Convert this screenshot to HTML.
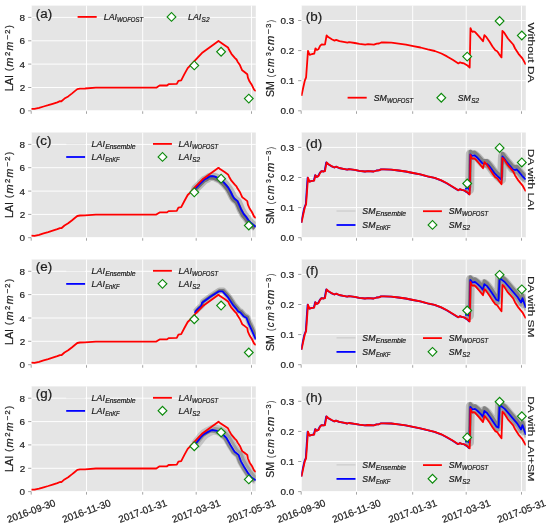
<!DOCTYPE html><html><head><meta charset="utf-8"><style>html,body{margin:0;padding:0;background:#fff;width:550px;height:528px;overflow:hidden}svg{display:block;will-change:transform}text{font-family:"Liberation Sans",sans-serif;stroke:#1e1e1e;stroke-width:0.22px}</style></head><body>
<svg width="550" height="528" viewBox="0 0 550 528">
<defs>
<clipPath id="c00"><rect x="31.3" y="5.6" width="224.5" height="105.2"/></clipPath>
<clipPath id="c01"><rect x="301.3" y="5.6" width="224.5" height="105.2"/></clipPath>
<clipPath id="c10"><rect x="31.3" y="132.5" width="224.5" height="105.2"/></clipPath>
<clipPath id="c11"><rect x="301.3" y="132.5" width="224.5" height="105.2"/></clipPath>
<clipPath id="c20"><rect x="31.3" y="259.5" width="224.5" height="105.2"/></clipPath>
<clipPath id="c21"><rect x="301.3" y="259.5" width="224.5" height="105.2"/></clipPath>
<clipPath id="c30"><rect x="31.3" y="386.4" width="224.5" height="105.2"/></clipPath>
<clipPath id="c31"><rect x="301.3" y="386.4" width="224.5" height="105.2"/></clipPath>
</defs>
<rect x="31.3" y="5.6" width="224.5" height="105.2" fill="#e5e5e5"/>
<line x1="31.2" y1="5.6" x2="31.2" y2="110.8" stroke="#fff" stroke-width="0.95"/>
<line x1="31.2" y1="110.8" x2="31.2" y2="113.8" stroke="#8a8a8a" stroke-width="0.8"/>
<line x1="86.5" y1="5.6" x2="86.5" y2="110.8" stroke="#fff" stroke-width="0.95"/>
<line x1="86.5" y1="110.8" x2="86.5" y2="113.8" stroke="#8a8a8a" stroke-width="0.8"/>
<line x1="142.7" y1="5.6" x2="142.7" y2="110.8" stroke="#fff" stroke-width="0.95"/>
<line x1="142.7" y1="110.8" x2="142.7" y2="113.8" stroke="#8a8a8a" stroke-width="0.8"/>
<line x1="196.2" y1="5.6" x2="196.2" y2="110.8" stroke="#fff" stroke-width="0.95"/>
<line x1="196.2" y1="110.8" x2="196.2" y2="113.8" stroke="#8a8a8a" stroke-width="0.8"/>
<line x1="251.5" y1="5.6" x2="251.5" y2="110.8" stroke="#fff" stroke-width="0.95"/>
<line x1="251.5" y1="110.8" x2="251.5" y2="113.8" stroke="#8a8a8a" stroke-width="0.8"/>
<line x1="31.3" y1="110.8" x2="255.8" y2="110.8" stroke="#fff" stroke-width="0.95"/>
<line x1="28.1" y1="110.8" x2="31.3" y2="110.8" stroke="#8a8a8a" stroke-width="0.8"/>
<text x="19.58" y="114.36" font-size="9.90" textLength="5.51" lengthAdjust="spacingAndGlyphs" fill="#1e1e1e">0</text>
<line x1="31.3" y1="87.5" x2="255.8" y2="87.5" stroke="#fff" stroke-width="0.95"/>
<line x1="28.1" y1="87.5" x2="31.3" y2="87.5" stroke="#8a8a8a" stroke-width="0.8"/>
<text x="19.69" y="91.02" font-size="9.90" textLength="5.51" lengthAdjust="spacingAndGlyphs" fill="#1e1e1e">2</text>
<line x1="31.3" y1="64.1" x2="255.8" y2="64.1" stroke="#fff" stroke-width="0.95"/>
<line x1="28.1" y1="64.1" x2="31.3" y2="64.1" stroke="#8a8a8a" stroke-width="0.8"/>
<text x="19.48" y="67.68" font-size="9.90" textLength="5.51" lengthAdjust="spacingAndGlyphs" fill="#1e1e1e">4</text>
<line x1="31.3" y1="40.8" x2="255.8" y2="40.8" stroke="#fff" stroke-width="0.95"/>
<line x1="28.1" y1="40.8" x2="31.3" y2="40.8" stroke="#8a8a8a" stroke-width="0.8"/>
<text x="19.63" y="44.34" font-size="9.90" textLength="5.51" lengthAdjust="spacingAndGlyphs" fill="#1e1e1e">6</text>
<line x1="31.3" y1="17.4" x2="255.8" y2="17.4" stroke="#fff" stroke-width="0.95"/>
<line x1="28.1" y1="17.4" x2="31.3" y2="17.4" stroke="#8a8a8a" stroke-width="0.8"/>
<text x="19.62" y="21.00" font-size="9.90" textLength="5.51" lengthAdjust="spacingAndGlyphs" fill="#1e1e1e">8</text>
<rect x="301.3" y="5.6" width="224.5" height="105.2" fill="#e5e5e5"/>
<line x1="301.2" y1="5.6" x2="301.2" y2="110.8" stroke="#fff" stroke-width="0.95"/>
<line x1="301.2" y1="110.8" x2="301.2" y2="113.8" stroke="#8a8a8a" stroke-width="0.8"/>
<line x1="356.5" y1="5.6" x2="356.5" y2="110.8" stroke="#fff" stroke-width="0.95"/>
<line x1="356.5" y1="110.8" x2="356.5" y2="113.8" stroke="#8a8a8a" stroke-width="0.8"/>
<line x1="412.7" y1="5.6" x2="412.7" y2="110.8" stroke="#fff" stroke-width="0.95"/>
<line x1="412.7" y1="110.8" x2="412.7" y2="113.8" stroke="#8a8a8a" stroke-width="0.8"/>
<line x1="466.2" y1="5.6" x2="466.2" y2="110.8" stroke="#fff" stroke-width="0.95"/>
<line x1="466.2" y1="110.8" x2="466.2" y2="113.8" stroke="#8a8a8a" stroke-width="0.8"/>
<line x1="521.5" y1="5.6" x2="521.5" y2="110.8" stroke="#fff" stroke-width="0.95"/>
<line x1="521.5" y1="110.8" x2="521.5" y2="113.8" stroke="#8a8a8a" stroke-width="0.8"/>
<line x1="301.3" y1="110.8" x2="525.8" y2="110.8" stroke="#fff" stroke-width="0.95"/>
<line x1="298.1" y1="110.8" x2="301.3" y2="110.8" stroke="#8a8a8a" stroke-width="0.8"/>
<text x="280.42" y="114.36" font-size="9.90" textLength="13.76" lengthAdjust="spacingAndGlyphs" fill="#1e1e1e">0.0</text>
<line x1="301.3" y1="80.7" x2="525.8" y2="80.7" stroke="#fff" stroke-width="0.95"/>
<line x1="298.1" y1="80.7" x2="301.3" y2="80.7" stroke="#8a8a8a" stroke-width="0.8"/>
<text x="280.52" y="84.26" font-size="9.90" textLength="13.76" lengthAdjust="spacingAndGlyphs" fill="#1e1e1e">0.1</text>
<line x1="301.3" y1="50.6" x2="525.8" y2="50.6" stroke="#fff" stroke-width="0.95"/>
<line x1="298.1" y1="50.6" x2="301.3" y2="50.6" stroke="#8a8a8a" stroke-width="0.8"/>
<text x="280.54" y="54.16" font-size="9.90" textLength="13.76" lengthAdjust="spacingAndGlyphs" fill="#1e1e1e">0.2</text>
<line x1="301.3" y1="20.5" x2="525.8" y2="20.5" stroke="#fff" stroke-width="0.95"/>
<line x1="298.1" y1="20.5" x2="301.3" y2="20.5" stroke="#8a8a8a" stroke-width="0.8"/>
<text x="280.47" y="24.06" font-size="9.90" textLength="13.76" lengthAdjust="spacingAndGlyphs" fill="#1e1e1e">0.3</text>
<rect x="31.3" y="132.5" width="224.5" height="105.2" fill="#e5e5e5"/>
<line x1="31.2" y1="132.5" x2="31.2" y2="237.7" stroke="#fff" stroke-width="0.95"/>
<line x1="31.2" y1="237.7" x2="31.2" y2="240.7" stroke="#8a8a8a" stroke-width="0.8"/>
<line x1="86.5" y1="132.5" x2="86.5" y2="237.7" stroke="#fff" stroke-width="0.95"/>
<line x1="86.5" y1="237.7" x2="86.5" y2="240.7" stroke="#8a8a8a" stroke-width="0.8"/>
<line x1="142.7" y1="132.5" x2="142.7" y2="237.7" stroke="#fff" stroke-width="0.95"/>
<line x1="142.7" y1="237.7" x2="142.7" y2="240.7" stroke="#8a8a8a" stroke-width="0.8"/>
<line x1="196.2" y1="132.5" x2="196.2" y2="237.7" stroke="#fff" stroke-width="0.95"/>
<line x1="196.2" y1="237.7" x2="196.2" y2="240.7" stroke="#8a8a8a" stroke-width="0.8"/>
<line x1="251.5" y1="132.5" x2="251.5" y2="237.7" stroke="#fff" stroke-width="0.95"/>
<line x1="251.5" y1="237.7" x2="251.5" y2="240.7" stroke="#8a8a8a" stroke-width="0.8"/>
<line x1="31.3" y1="237.7" x2="255.8" y2="237.7" stroke="#fff" stroke-width="0.95"/>
<line x1="28.1" y1="237.7" x2="31.3" y2="237.7" stroke="#8a8a8a" stroke-width="0.8"/>
<text x="19.58" y="241.29" font-size="9.90" textLength="5.51" lengthAdjust="spacingAndGlyphs" fill="#1e1e1e">0</text>
<line x1="31.3" y1="214.4" x2="255.8" y2="214.4" stroke="#fff" stroke-width="0.95"/>
<line x1="28.1" y1="214.4" x2="31.3" y2="214.4" stroke="#8a8a8a" stroke-width="0.8"/>
<text x="19.69" y="217.95" font-size="9.90" textLength="5.51" lengthAdjust="spacingAndGlyphs" fill="#1e1e1e">2</text>
<line x1="31.3" y1="191.1" x2="255.8" y2="191.1" stroke="#fff" stroke-width="0.95"/>
<line x1="28.1" y1="191.1" x2="31.3" y2="191.1" stroke="#8a8a8a" stroke-width="0.8"/>
<text x="19.48" y="194.61" font-size="9.90" textLength="5.51" lengthAdjust="spacingAndGlyphs" fill="#1e1e1e">4</text>
<line x1="31.3" y1="167.7" x2="255.8" y2="167.7" stroke="#fff" stroke-width="0.95"/>
<line x1="28.1" y1="167.7" x2="31.3" y2="167.7" stroke="#8a8a8a" stroke-width="0.8"/>
<text x="19.63" y="171.27" font-size="9.90" textLength="5.51" lengthAdjust="spacingAndGlyphs" fill="#1e1e1e">6</text>
<line x1="31.3" y1="144.4" x2="255.8" y2="144.4" stroke="#fff" stroke-width="0.95"/>
<line x1="28.1" y1="144.4" x2="31.3" y2="144.4" stroke="#8a8a8a" stroke-width="0.8"/>
<text x="19.62" y="147.93" font-size="9.90" textLength="5.51" lengthAdjust="spacingAndGlyphs" fill="#1e1e1e">8</text>
<rect x="301.3" y="132.5" width="224.5" height="105.2" fill="#e5e5e5"/>
<line x1="301.2" y1="132.5" x2="301.2" y2="237.7" stroke="#fff" stroke-width="0.95"/>
<line x1="301.2" y1="237.7" x2="301.2" y2="240.7" stroke="#8a8a8a" stroke-width="0.8"/>
<line x1="356.5" y1="132.5" x2="356.5" y2="237.7" stroke="#fff" stroke-width="0.95"/>
<line x1="356.5" y1="237.7" x2="356.5" y2="240.7" stroke="#8a8a8a" stroke-width="0.8"/>
<line x1="412.7" y1="132.5" x2="412.7" y2="237.7" stroke="#fff" stroke-width="0.95"/>
<line x1="412.7" y1="237.7" x2="412.7" y2="240.7" stroke="#8a8a8a" stroke-width="0.8"/>
<line x1="466.2" y1="132.5" x2="466.2" y2="237.7" stroke="#fff" stroke-width="0.95"/>
<line x1="466.2" y1="237.7" x2="466.2" y2="240.7" stroke="#8a8a8a" stroke-width="0.8"/>
<line x1="521.5" y1="132.5" x2="521.5" y2="237.7" stroke="#fff" stroke-width="0.95"/>
<line x1="521.5" y1="237.7" x2="521.5" y2="240.7" stroke="#8a8a8a" stroke-width="0.8"/>
<line x1="301.3" y1="237.7" x2="525.8" y2="237.7" stroke="#fff" stroke-width="0.95"/>
<line x1="298.1" y1="237.7" x2="301.3" y2="237.7" stroke="#8a8a8a" stroke-width="0.8"/>
<text x="280.42" y="241.29" font-size="9.90" textLength="13.76" lengthAdjust="spacingAndGlyphs" fill="#1e1e1e">0.0</text>
<line x1="301.3" y1="207.6" x2="525.8" y2="207.6" stroke="#fff" stroke-width="0.95"/>
<line x1="298.1" y1="207.6" x2="301.3" y2="207.6" stroke="#8a8a8a" stroke-width="0.8"/>
<text x="280.52" y="211.19" font-size="9.90" textLength="13.76" lengthAdjust="spacingAndGlyphs" fill="#1e1e1e">0.1</text>
<line x1="301.3" y1="177.5" x2="525.8" y2="177.5" stroke="#fff" stroke-width="0.95"/>
<line x1="298.1" y1="177.5" x2="301.3" y2="177.5" stroke="#8a8a8a" stroke-width="0.8"/>
<text x="280.54" y="181.09" font-size="9.90" textLength="13.76" lengthAdjust="spacingAndGlyphs" fill="#1e1e1e">0.2</text>
<line x1="301.3" y1="147.4" x2="525.8" y2="147.4" stroke="#fff" stroke-width="0.95"/>
<line x1="298.1" y1="147.4" x2="301.3" y2="147.4" stroke="#8a8a8a" stroke-width="0.8"/>
<text x="280.47" y="150.99" font-size="9.90" textLength="13.76" lengthAdjust="spacingAndGlyphs" fill="#1e1e1e">0.3</text>
<rect x="31.3" y="259.5" width="224.5" height="105.2" fill="#e5e5e5"/>
<line x1="31.2" y1="259.5" x2="31.2" y2="364.7" stroke="#fff" stroke-width="0.95"/>
<line x1="31.2" y1="364.7" x2="31.2" y2="367.7" stroke="#8a8a8a" stroke-width="0.8"/>
<line x1="86.5" y1="259.5" x2="86.5" y2="364.7" stroke="#fff" stroke-width="0.95"/>
<line x1="86.5" y1="364.7" x2="86.5" y2="367.7" stroke="#8a8a8a" stroke-width="0.8"/>
<line x1="142.7" y1="259.5" x2="142.7" y2="364.7" stroke="#fff" stroke-width="0.95"/>
<line x1="142.7" y1="364.7" x2="142.7" y2="367.7" stroke="#8a8a8a" stroke-width="0.8"/>
<line x1="196.2" y1="259.5" x2="196.2" y2="364.7" stroke="#fff" stroke-width="0.95"/>
<line x1="196.2" y1="364.7" x2="196.2" y2="367.7" stroke="#8a8a8a" stroke-width="0.8"/>
<line x1="251.5" y1="259.5" x2="251.5" y2="364.7" stroke="#fff" stroke-width="0.95"/>
<line x1="251.5" y1="364.7" x2="251.5" y2="367.7" stroke="#8a8a8a" stroke-width="0.8"/>
<line x1="31.3" y1="364.7" x2="255.8" y2="364.7" stroke="#fff" stroke-width="0.95"/>
<line x1="28.1" y1="364.7" x2="31.3" y2="364.7" stroke="#8a8a8a" stroke-width="0.8"/>
<text x="19.58" y="368.22" font-size="9.90" textLength="5.51" lengthAdjust="spacingAndGlyphs" fill="#1e1e1e">0</text>
<line x1="31.3" y1="341.3" x2="255.8" y2="341.3" stroke="#fff" stroke-width="0.95"/>
<line x1="28.1" y1="341.3" x2="31.3" y2="341.3" stroke="#8a8a8a" stroke-width="0.8"/>
<text x="19.69" y="344.88" font-size="9.90" textLength="5.51" lengthAdjust="spacingAndGlyphs" fill="#1e1e1e">2</text>
<line x1="31.3" y1="318.0" x2="255.8" y2="318.0" stroke="#fff" stroke-width="0.95"/>
<line x1="28.1" y1="318.0" x2="31.3" y2="318.0" stroke="#8a8a8a" stroke-width="0.8"/>
<text x="19.48" y="321.54" font-size="9.90" textLength="5.51" lengthAdjust="spacingAndGlyphs" fill="#1e1e1e">4</text>
<line x1="31.3" y1="294.6" x2="255.8" y2="294.6" stroke="#fff" stroke-width="0.95"/>
<line x1="28.1" y1="294.6" x2="31.3" y2="294.6" stroke="#8a8a8a" stroke-width="0.8"/>
<text x="19.63" y="298.20" font-size="9.90" textLength="5.51" lengthAdjust="spacingAndGlyphs" fill="#1e1e1e">6</text>
<line x1="31.3" y1="271.3" x2="255.8" y2="271.3" stroke="#fff" stroke-width="0.95"/>
<line x1="28.1" y1="271.3" x2="31.3" y2="271.3" stroke="#8a8a8a" stroke-width="0.8"/>
<text x="19.62" y="274.86" font-size="9.90" textLength="5.51" lengthAdjust="spacingAndGlyphs" fill="#1e1e1e">8</text>
<rect x="301.3" y="259.5" width="224.5" height="105.2" fill="#e5e5e5"/>
<line x1="301.2" y1="259.5" x2="301.2" y2="364.7" stroke="#fff" stroke-width="0.95"/>
<line x1="301.2" y1="364.7" x2="301.2" y2="367.7" stroke="#8a8a8a" stroke-width="0.8"/>
<line x1="356.5" y1="259.5" x2="356.5" y2="364.7" stroke="#fff" stroke-width="0.95"/>
<line x1="356.5" y1="364.7" x2="356.5" y2="367.7" stroke="#8a8a8a" stroke-width="0.8"/>
<line x1="412.7" y1="259.5" x2="412.7" y2="364.7" stroke="#fff" stroke-width="0.95"/>
<line x1="412.7" y1="364.7" x2="412.7" y2="367.7" stroke="#8a8a8a" stroke-width="0.8"/>
<line x1="466.2" y1="259.5" x2="466.2" y2="364.7" stroke="#fff" stroke-width="0.95"/>
<line x1="466.2" y1="364.7" x2="466.2" y2="367.7" stroke="#8a8a8a" stroke-width="0.8"/>
<line x1="521.5" y1="259.5" x2="521.5" y2="364.7" stroke="#fff" stroke-width="0.95"/>
<line x1="521.5" y1="364.7" x2="521.5" y2="367.7" stroke="#8a8a8a" stroke-width="0.8"/>
<line x1="301.3" y1="364.7" x2="525.8" y2="364.7" stroke="#fff" stroke-width="0.95"/>
<line x1="298.1" y1="364.7" x2="301.3" y2="364.7" stroke="#8a8a8a" stroke-width="0.8"/>
<text x="280.42" y="368.22" font-size="9.90" textLength="13.76" lengthAdjust="spacingAndGlyphs" fill="#1e1e1e">0.0</text>
<line x1="301.3" y1="334.6" x2="525.8" y2="334.6" stroke="#fff" stroke-width="0.95"/>
<line x1="298.1" y1="334.6" x2="301.3" y2="334.6" stroke="#8a8a8a" stroke-width="0.8"/>
<text x="280.52" y="338.12" font-size="9.90" textLength="13.76" lengthAdjust="spacingAndGlyphs" fill="#1e1e1e">0.1</text>
<line x1="301.3" y1="304.5" x2="525.8" y2="304.5" stroke="#fff" stroke-width="0.95"/>
<line x1="298.1" y1="304.5" x2="301.3" y2="304.5" stroke="#8a8a8a" stroke-width="0.8"/>
<text x="280.54" y="308.02" font-size="9.90" textLength="13.76" lengthAdjust="spacingAndGlyphs" fill="#1e1e1e">0.2</text>
<line x1="301.3" y1="274.4" x2="525.8" y2="274.4" stroke="#fff" stroke-width="0.95"/>
<line x1="298.1" y1="274.4" x2="301.3" y2="274.4" stroke="#8a8a8a" stroke-width="0.8"/>
<text x="280.47" y="277.92" font-size="9.90" textLength="13.76" lengthAdjust="spacingAndGlyphs" fill="#1e1e1e">0.3</text>
<rect x="31.3" y="386.4" width="224.5" height="105.2" fill="#e5e5e5"/>
<line x1="31.2" y1="386.4" x2="31.2" y2="491.6" stroke="#fff" stroke-width="0.95"/>
<line x1="31.2" y1="491.6" x2="31.2" y2="494.6" stroke="#8a8a8a" stroke-width="0.8"/>
<line x1="86.5" y1="386.4" x2="86.5" y2="491.6" stroke="#fff" stroke-width="0.95"/>
<line x1="86.5" y1="491.6" x2="86.5" y2="494.6" stroke="#8a8a8a" stroke-width="0.8"/>
<line x1="142.7" y1="386.4" x2="142.7" y2="491.6" stroke="#fff" stroke-width="0.95"/>
<line x1="142.7" y1="491.6" x2="142.7" y2="494.6" stroke="#8a8a8a" stroke-width="0.8"/>
<line x1="196.2" y1="386.4" x2="196.2" y2="491.6" stroke="#fff" stroke-width="0.95"/>
<line x1="196.2" y1="491.6" x2="196.2" y2="494.6" stroke="#8a8a8a" stroke-width="0.8"/>
<line x1="251.5" y1="386.4" x2="251.5" y2="491.6" stroke="#fff" stroke-width="0.95"/>
<line x1="251.5" y1="491.6" x2="251.5" y2="494.6" stroke="#8a8a8a" stroke-width="0.8"/>
<line x1="31.3" y1="491.6" x2="255.8" y2="491.6" stroke="#fff" stroke-width="0.95"/>
<line x1="28.1" y1="491.6" x2="31.3" y2="491.6" stroke="#8a8a8a" stroke-width="0.8"/>
<text x="19.58" y="495.15" font-size="9.90" textLength="5.51" lengthAdjust="spacingAndGlyphs" fill="#1e1e1e">0</text>
<line x1="31.3" y1="468.3" x2="255.8" y2="468.3" stroke="#fff" stroke-width="0.95"/>
<line x1="28.1" y1="468.3" x2="31.3" y2="468.3" stroke="#8a8a8a" stroke-width="0.8"/>
<text x="19.69" y="471.81" font-size="9.90" textLength="5.51" lengthAdjust="spacingAndGlyphs" fill="#1e1e1e">2</text>
<line x1="31.3" y1="444.9" x2="255.8" y2="444.9" stroke="#fff" stroke-width="0.95"/>
<line x1="28.1" y1="444.9" x2="31.3" y2="444.9" stroke="#8a8a8a" stroke-width="0.8"/>
<text x="19.48" y="448.47" font-size="9.90" textLength="5.51" lengthAdjust="spacingAndGlyphs" fill="#1e1e1e">4</text>
<line x1="31.3" y1="421.6" x2="255.8" y2="421.6" stroke="#fff" stroke-width="0.95"/>
<line x1="28.1" y1="421.6" x2="31.3" y2="421.6" stroke="#8a8a8a" stroke-width="0.8"/>
<text x="19.63" y="425.13" font-size="9.90" textLength="5.51" lengthAdjust="spacingAndGlyphs" fill="#1e1e1e">6</text>
<line x1="31.3" y1="398.2" x2="255.8" y2="398.2" stroke="#fff" stroke-width="0.95"/>
<line x1="28.1" y1="398.2" x2="31.3" y2="398.2" stroke="#8a8a8a" stroke-width="0.8"/>
<text x="19.62" y="401.79" font-size="9.90" textLength="5.51" lengthAdjust="spacingAndGlyphs" fill="#1e1e1e">8</text>
<rect x="301.3" y="386.4" width="224.5" height="105.2" fill="#e5e5e5"/>
<line x1="301.2" y1="386.4" x2="301.2" y2="491.6" stroke="#fff" stroke-width="0.95"/>
<line x1="301.2" y1="491.6" x2="301.2" y2="494.6" stroke="#8a8a8a" stroke-width="0.8"/>
<line x1="356.5" y1="386.4" x2="356.5" y2="491.6" stroke="#fff" stroke-width="0.95"/>
<line x1="356.5" y1="491.6" x2="356.5" y2="494.6" stroke="#8a8a8a" stroke-width="0.8"/>
<line x1="412.7" y1="386.4" x2="412.7" y2="491.6" stroke="#fff" stroke-width="0.95"/>
<line x1="412.7" y1="491.6" x2="412.7" y2="494.6" stroke="#8a8a8a" stroke-width="0.8"/>
<line x1="466.2" y1="386.4" x2="466.2" y2="491.6" stroke="#fff" stroke-width="0.95"/>
<line x1="466.2" y1="491.6" x2="466.2" y2="494.6" stroke="#8a8a8a" stroke-width="0.8"/>
<line x1="521.5" y1="386.4" x2="521.5" y2="491.6" stroke="#fff" stroke-width="0.95"/>
<line x1="521.5" y1="491.6" x2="521.5" y2="494.6" stroke="#8a8a8a" stroke-width="0.8"/>
<line x1="301.3" y1="491.6" x2="525.8" y2="491.6" stroke="#fff" stroke-width="0.95"/>
<line x1="298.1" y1="491.6" x2="301.3" y2="491.6" stroke="#8a8a8a" stroke-width="0.8"/>
<text x="280.42" y="495.15" font-size="9.90" textLength="13.76" lengthAdjust="spacingAndGlyphs" fill="#1e1e1e">0.0</text>
<line x1="301.3" y1="461.5" x2="525.8" y2="461.5" stroke="#fff" stroke-width="0.95"/>
<line x1="298.1" y1="461.5" x2="301.3" y2="461.5" stroke="#8a8a8a" stroke-width="0.8"/>
<text x="280.52" y="465.05" font-size="9.90" textLength="13.76" lengthAdjust="spacingAndGlyphs" fill="#1e1e1e">0.1</text>
<line x1="301.3" y1="431.4" x2="525.8" y2="431.4" stroke="#fff" stroke-width="0.95"/>
<line x1="298.1" y1="431.4" x2="301.3" y2="431.4" stroke="#8a8a8a" stroke-width="0.8"/>
<text x="280.54" y="434.95" font-size="9.90" textLength="13.76" lengthAdjust="spacingAndGlyphs" fill="#1e1e1e">0.2</text>
<line x1="301.3" y1="401.3" x2="525.8" y2="401.3" stroke="#fff" stroke-width="0.95"/>
<line x1="298.1" y1="401.3" x2="301.3" y2="401.3" stroke="#8a8a8a" stroke-width="0.8"/>
<text x="280.47" y="404.85" font-size="9.90" textLength="13.76" lengthAdjust="spacingAndGlyphs" fill="#1e1e1e">0.3</text>
<g clip-path="url(#c00)">
<polyline points="31.3,108.8 34.5,108.9 39.1,107.9 43.6,106.5 48.2,105.2 52.7,103.8 57.3,102.3 60.0,101.2 61.4,101.3 64.5,98.6 68.2,96.4 71.8,93.6 74.5,91.4 77.3,89.1 80.0,88.6 85.0,88.5 95.9,87.7 98.1,87.7 156.3,87.7 159.6,85.5 167.0,85.5 168.6,84.2 176.8,83.9 178.4,80.8 181.2,80.3 184.4,74.1 187.7,68.1 189.9,65.9 194.6,60.8 202.6,52.4 218.5,40.9 220.0,42.1 224.6,45.2 228.0,47.5 229.1,49.8 231.4,53.8 234.8,57.8 236.5,59.5 237.6,61.7 239.9,65.1 242.2,70.3 244.5,72.0 247.3,74.2 247.9,77.7 249.6,81.6 251.9,85.1 254.1,89.6 255.8,91.2" fill="none" stroke="#ff0000" stroke-width="1.8" stroke-linejoin="round"/>
</g>
<g clip-path="url(#c01)">
<polyline points="301.5,95.8 303.2,87.8 304.8,80.6 306.1,77.3 307.2,62.0 308.0,50.8 309.2,54.0 309.7,54.8 312.1,54.0 314.2,53.7 315.5,48.3 316.9,50.0 318.5,49.2 320.1,45.9 321.7,44.3 323.8,44.6 325.0,44.3 326.6,35.5 328.2,37.1 332.2,39.5 334.6,40.6 336.2,39.8 339.4,41.1 343.5,41.9 347.5,42.7 349.1,42.2 354.8,43.0 359.4,43.9 365.2,44.6 368.1,44.2 373.9,44.6 376.8,43.6 379.0,43.5 381.2,42.5 384.1,42.5 391.4,42.7 398.6,43.6 405.9,44.6 413.2,46.1 420.5,47.5 427.7,49.4 434.8,51.0 441.4,53.5 447.0,56.4 452.7,59.8 458.4,63.4 460.1,62.3 461.8,63.0 464.1,63.4 467.5,65.5 469.7,67.6 470.5,28.1 471.6,30.9 472.6,31.8 474.0,31.4 475.4,32.3 479.2,36.6 483.0,41.3 484.4,35.2 485.9,36.6 489.6,41.8 492.5,46.5 495.3,50.3 497.2,51.3 499.1,54.1 501.5,57.4 502.4,30.9 503.9,32.3 507.9,38.5 513.2,44.5 515.1,48.5 518.5,53.8 522.4,58.4 525.8,64.5" fill="none" stroke="#ff0000" stroke-width="1.8" stroke-linejoin="round"/>
</g>
<g clip-path="url(#c10)">
<polyline points="194.6,192.0 195.5,188.8 199.6,184.7 204.4,180.0 207.0,178.7 209.6,176.9 212.3,176.6 214.9,177.1 217.6,178.4 220.2,179.7 223.5,182.7 226.2,185.7 228.2,188.1 230.2,191.5 231.7,194.5 232.8,196.8 234.3,199.0 237.5,201.6 239.4,205.8 240.8,209.2 243.6,214.4 246.4,217.7 248.3,220.5 250.7,223.3 253.1,225.2 255.8,227.3" fill="none" stroke="#888" stroke-width="8.5" stroke-linejoin="round" opacity="0.50"/>
<polyline points="193.9,192.6 194.8,189.4 198.9,185.3 203.7,180.6 206.3,179.3 208.9,177.5 211.6,177.2 214.2,177.7 216.9,179.0 219.5,180.3 222.8,183.3 225.5,186.3 227.5,188.7 229.5,192.1 231.0,195.1 232.1,197.4 233.6,199.6 236.8,202.2 238.7,206.4 240.1,209.8 242.9,215.0 245.7,218.3 247.6,221.1 250.0,223.9 252.4,225.8 255.1,227.9" fill="none" stroke="#3a3a3a" stroke-width="4.5" stroke-linejoin="round" opacity="0.55"/>
<polyline points="194.6,191.5 195.5,188.3 199.6,184.2 204.4,179.5 207.0,178.2 209.6,176.4 212.3,176.1 214.9,176.6 217.6,177.9 220.2,179.2 223.5,182.2 226.2,185.2 228.2,187.6 230.2,191.0 231.7,194.0 232.8,196.3 234.3,198.5 237.5,201.1 239.4,205.3 240.8,208.7 243.6,213.9 246.4,217.2 248.3,220.0 250.7,222.8 253.1,224.7 255.8,226.8" fill="none" stroke="#0000ff" stroke-width="1.8" stroke-linejoin="round"/>
<polyline points="31.3,235.7 34.5,235.8 39.1,234.8 43.6,233.4 48.2,232.1 52.7,230.7 57.3,229.2 60.0,228.1 61.4,228.2 64.5,225.5 68.2,223.3 71.8,220.5 74.5,218.3 77.3,216.0 80.0,215.5 85.0,215.4 95.9,214.6 98.1,214.6 156.3,214.6 159.6,212.4 167.0,212.4 168.6,211.1 176.8,210.8 178.4,207.7 181.2,207.2 184.4,201.0 187.7,195.0 189.9,192.8 194.6,187.7 202.6,179.3 218.5,167.8 220.0,169.0 224.6,172.1 228.0,174.4 229.1,176.7 231.4,180.7 234.8,184.7 236.5,186.4 237.6,188.6 239.9,192.0 242.2,197.2 244.5,198.9 247.3,201.1 247.9,204.6 249.6,208.5 251.9,212.0 254.1,216.5 255.8,218.1" fill="none" stroke="#ff0000" stroke-width="1.8" stroke-linejoin="round"/>
</g>
<g clip-path="url(#c11)">
<polyline points="465.1,188.3 468.3,187.7 469.6,189.5 470.3,153.9 471.9,155.4 474.4,154.8 477.5,157.3 480.6,160.8 482.5,162.9 486.9,163.3 488.8,165.1 491.3,168.3 494.4,172.6 496.9,175.1 500.2,178.1 501.5,179.5 502.5,156.0 503.8,157.5 506.4,161.2 509.6,164.8 512.7,168.5 514.8,169.5 516.9,169.0 519.5,172.1 522.1,175.3 525.8,179.0" fill="none" stroke="#909090" stroke-width="9.0" stroke-linejoin="round" opacity="0.50"/>
<polyline points="465.1,185.8 468.3,185.2 469.6,187.0 470.3,151.4 471.9,152.9 474.4,152.3 477.5,154.8 480.6,158.3 482.5,160.4 486.9,160.8 488.8,162.6 491.3,165.8 494.4,170.1 496.9,172.6 500.2,175.6 501.5,177.0 502.5,153.5 503.8,155.0 506.4,158.7 509.6,162.3 512.7,166.0 514.8,167.0 516.9,166.5 519.5,169.6 522.1,172.8 525.8,176.5" fill="none" stroke="#484848" stroke-width="3.5" stroke-linejoin="round" opacity="0.50"/>
<polyline points="465.1,191.6 468.3,191.0 469.6,192.8 470.3,157.2 471.9,158.7 474.4,158.1 477.5,160.6 480.6,164.1 482.5,166.2 486.9,166.6 488.8,168.4 491.3,171.6 494.4,175.9 496.9,178.4 500.2,181.4 501.5,182.8 502.5,159.3 503.8,160.8 506.4,164.5 509.6,168.1 512.7,171.8 514.8,172.8 516.9,172.3 519.5,175.4 522.1,178.6 525.8,182.3" fill="none" stroke="#6a6a6a" stroke-width="2.5" stroke-linejoin="round" opacity="0.40"/>
<polyline points="465.1,188.8 468.3,188.2 469.6,190.0 470.3,154.4 471.9,155.9 474.4,155.3 477.5,157.8 480.6,161.3 482.5,163.4 486.9,163.8 488.8,165.6 491.3,168.8 494.4,173.1 496.9,175.6 500.2,178.6 501.5,180.0 502.5,156.5 503.8,158.0 506.4,161.7 509.6,165.3 512.7,169.0 514.8,170.0 516.9,169.5 519.5,172.6 522.1,175.8 525.8,179.5" fill="none" stroke="#0000ff" stroke-width="1.8" stroke-linejoin="round"/>
<polyline points="301.1,222.7 302.8,214.7 304.4,207.5 305.8,204.2 306.8,188.9 307.6,177.7 308.8,180.9 309.3,181.7 311.8,180.9 313.8,180.6 315.1,175.2 316.5,176.9 318.1,176.1 319.8,172.8 321.3,171.2 323.4,171.5 324.6,171.2 326.2,162.4 327.8,164.0 331.8,166.4 334.2,167.5 335.8,166.7 339.0,168.0 343.1,168.8 347.1,169.6 348.8,169.1 354.4,169.9 359.0,170.8 364.8,171.5 367.8,171.1 373.5,171.5 376.4,170.5 378.6,170.4 380.8,169.4 383.8,169.4 391.0,169.6 398.2,170.5 405.5,171.5 412.8,173.0 420.1,174.4 427.3,176.3 434.4,177.9 441.0,180.4 446.6,183.3 452.3,186.7 458.0,190.3 459.8,189.2 461.4,189.9 463.8,190.3 467.1,192.4 469.3,194.5" fill="none" stroke="#0000ff" stroke-width="1.8" stroke-linejoin="round"/>
<polyline points="301.5,222.7 303.2,214.7 304.8,207.5 306.1,204.2 307.2,188.9 308.0,177.7 309.2,180.9 309.7,181.7 312.1,180.9 314.2,180.6 315.5,175.2 316.9,176.9 318.5,176.1 320.1,172.8 321.7,171.2 323.8,171.5 325.0,171.2 326.6,162.4 328.2,164.0 332.2,166.4 334.6,167.5 336.2,166.7 339.4,168.0 343.5,168.8 347.5,169.6 349.1,169.1 354.8,169.9 359.4,170.8 365.2,171.5 368.1,171.1 373.9,171.5 376.8,170.5 379.0,170.4 381.2,169.4 384.1,169.4 391.4,169.6 398.6,170.5 405.9,171.5 413.2,173.0 420.5,174.4 427.7,176.3 434.8,177.9 441.4,180.4 447.0,183.3 452.7,186.7 458.4,190.3 460.1,189.2 461.8,189.9 464.1,190.3 467.5,192.4 469.7,194.5 470.5,155.0 471.6,157.8 472.6,158.7 474.0,158.3 475.4,159.2 479.2,163.5 483.0,168.2 484.4,162.1 485.9,163.5 489.6,168.7 492.5,173.4 495.3,177.2 497.2,178.2 499.1,181.0 501.5,184.3 502.4,157.8 503.9,159.2 507.9,165.4 513.2,171.4 515.1,175.4 518.5,180.7 522.4,185.3 525.8,191.4" fill="none" stroke="#ff0000" stroke-width="1.8" stroke-linejoin="round"/>
</g>
<g clip-path="url(#c20)">
<polyline points="195.3,312.0 198.4,308.4 202.0,305.2 202.9,302.0 210.8,296.2 219.4,290.6 223.3,290.6 229.0,296.9 234.1,304.6 237.3,308.4 239.2,310.9 241.1,311.6 244.3,315.4 247.4,317.3 249.3,322.4 251.9,328.1 256.6,338.7" fill="none" stroke="#888" stroke-width="6.0" stroke-linejoin="round" opacity="0.50"/>
<polyline points="195.5,311.8 198.6,308.2 202.2,305.0 203.1,301.8 211.0,296.0 219.6,290.4 223.5,290.4 229.2,296.7 234.3,304.4 237.5,308.2 239.4,310.7 241.3,311.4 244.5,315.2 247.6,317.1 249.5,322.2 252.1,327.9 256.8,338.5" fill="none" stroke="#3a3a3a" stroke-width="3.0" stroke-linejoin="round" opacity="0.50"/>
<polyline points="194.5,312.8 197.6,309.2 201.2,306.0 202.1,302.8 210.0,297.0 218.6,291.4 222.5,291.4 228.2,297.7 233.3,305.4 236.5,309.2 238.4,311.7 240.3,312.4 243.5,316.2 246.6,318.1 248.5,323.2 251.1,328.9 255.8,339.5" fill="none" stroke="#0000ff" stroke-width="1.8" stroke-linejoin="round"/>
<polyline points="31.3,362.7 34.5,362.8 39.1,361.8 43.6,360.4 48.2,359.1 52.7,357.7 57.3,356.2 60.0,355.1 61.4,355.2 64.5,352.5 68.2,350.3 71.8,347.5 74.5,345.3 77.3,343.0 80.0,342.5 85.0,342.4 95.9,341.6 98.1,341.6 156.3,341.6 159.6,339.4 167.0,339.4 168.6,338.1 176.8,337.8 178.4,334.7 181.2,334.2 184.4,328.0 187.7,322.0 189.9,319.8 194.6,314.7 202.6,306.3 218.5,294.8 220.0,296.0 224.6,299.1 228.0,301.4 229.1,303.7 231.4,307.7 234.8,311.7 236.5,313.4 237.6,315.6 239.9,319.0 242.2,324.2 244.5,325.9 247.3,328.1 247.9,331.6 249.6,335.5 251.9,339.0 254.1,343.5 255.8,345.1" fill="none" stroke="#ff0000" stroke-width="1.8" stroke-linejoin="round"/>
</g>
<g clip-path="url(#c21)">
<polyline points="465.1,314.3 468.3,314.3 469.5,315.5 470.3,279.4 472.4,282.0 475.0,281.5 477.6,283.6 480.8,286.7 482.8,289.3 484.4,283.6 487.0,285.6 490.1,289.8 493.3,294.5 496.4,299.2 498.5,300.2 499.6,277.0 501.9,279.4 504.7,281.5 509.0,286.5 513.2,291.5 517.5,296.5 521.0,302.1 522.5,297.7 525.8,307.3" fill="none" stroke="#909090" stroke-width="9.0" stroke-linejoin="round" opacity="0.50"/>
<polyline points="465.1,311.8 468.3,311.8 469.5,313.0 470.3,276.9 472.4,279.5 475.0,279.0 477.6,281.1 480.8,284.2 482.8,286.8 484.4,281.1 487.0,283.1 490.1,287.3 493.3,292.0 496.4,296.7 498.5,297.7 499.6,274.5 501.9,276.9 504.7,279.0 509.0,284.0 513.2,289.0 517.5,294.0 521.0,299.6 522.5,295.2 525.8,304.8" fill="none" stroke="#484848" stroke-width="3.5" stroke-linejoin="round" opacity="0.50"/>
<polyline points="465.1,317.6 468.3,317.6 469.5,318.8 470.3,282.7 472.4,285.3 475.0,284.8 477.6,286.9 480.8,290.0 482.8,292.6 484.4,286.9 487.0,288.9 490.1,293.1 493.3,297.8 496.4,302.5 498.5,303.5 499.6,280.3 501.9,282.7 504.7,284.8 509.0,289.8 513.2,294.8 517.5,299.8 521.0,305.4 522.5,301.0 525.8,310.6" fill="none" stroke="#6a6a6a" stroke-width="2.5" stroke-linejoin="round" opacity="0.40"/>
<polyline points="465.1,314.8 468.3,314.8 469.5,316.0 470.3,279.9 472.4,282.5 475.0,282.0 477.6,284.1 480.8,287.2 482.8,289.8 484.4,284.1 487.0,286.1 490.1,290.3 493.3,295.0 496.4,299.7 498.5,300.7 499.6,277.5 501.9,279.9 504.7,282.0 509.0,287.0 513.2,292.0 517.5,297.0 521.0,302.6 522.5,298.2 525.8,307.8" fill="none" stroke="#0000ff" stroke-width="1.8" stroke-linejoin="round"/>
<polyline points="301.1,349.7 302.8,341.7 304.4,334.5 305.8,331.2 306.8,315.9 307.6,304.7 308.8,307.9 309.3,308.7 311.8,307.9 313.8,307.6 315.1,302.2 316.5,303.9 318.1,303.1 319.8,299.8 321.3,298.2 323.4,298.5 324.6,298.2 326.2,289.4 327.8,291.0 331.8,293.4 334.2,294.5 335.8,293.7 339.0,295.0 343.1,295.8 347.1,296.6 348.8,296.1 354.4,296.9 359.0,297.8 364.8,298.5 367.8,298.1 373.5,298.5 376.4,297.5 378.6,297.4 380.8,296.4 383.8,296.4 391.0,296.6 398.2,297.5 405.5,298.5 412.8,300.0 420.1,301.4 427.3,303.3 434.4,304.9 441.0,307.4 446.6,310.3 452.3,313.7 458.0,317.3 459.8,316.2 461.4,316.9 463.8,317.3 467.1,319.4 469.3,321.5" fill="none" stroke="#0000ff" stroke-width="1.8" stroke-linejoin="round"/>
<polyline points="301.5,349.7 303.2,341.7 304.8,334.5 306.1,331.2 307.2,315.9 308.0,304.7 309.2,307.9 309.7,308.7 312.1,307.9 314.2,307.6 315.5,302.2 316.9,303.9 318.5,303.1 320.1,299.8 321.7,298.2 323.8,298.5 325.0,298.2 326.6,289.4 328.2,291.0 332.2,293.4 334.6,294.5 336.2,293.7 339.4,295.0 343.5,295.8 347.5,296.6 349.1,296.1 354.8,296.9 359.4,297.8 365.2,298.5 368.1,298.1 373.9,298.5 376.8,297.5 379.0,297.4 381.2,296.4 384.1,296.4 391.4,296.6 398.6,297.5 405.9,298.5 413.2,300.0 420.5,301.4 427.7,303.3 434.8,304.9 441.4,307.4 447.0,310.3 452.7,313.7 458.4,317.3 460.1,316.2 461.8,316.9 464.1,317.3 467.5,319.4 469.7,321.5 470.5,282.0 471.6,284.8 472.6,285.7 474.0,285.3 475.4,286.2 479.2,290.5 483.0,295.2 484.4,289.1 485.9,290.5 489.6,295.7 492.5,300.4 495.3,304.2 497.2,305.2 499.1,308.0 501.5,311.3 502.4,284.8 503.9,286.2 507.9,292.4 513.2,298.4 515.1,302.4 518.5,307.7 522.4,312.3 525.8,318.4" fill="none" stroke="#ff0000" stroke-width="1.8" stroke-linejoin="round"/>
</g>
<g clip-path="url(#c30)">
<polyline points="195.4,444.8 198.5,441.0 201.8,436.7 205.0,433.7 208.2,431.9 213.0,429.5 217.9,430.3 222.7,432.7 227.5,437.5 231.6,444.8 235.6,451.2 239.6,454.4 242.0,460.9 245.2,466.5 249.3,472.9 252.5,477.0 256.8,479.7" fill="none" stroke="#999" stroke-width="10.0" stroke-linejoin="round" opacity="0.45"/>
<polyline points="193.2,446.1 196.3,442.3 199.6,438.0 202.8,435.0 206.0,433.2 210.8,430.8 215.7,431.6 220.5,434.0 225.3,438.8 229.4,446.1 233.4,452.5 237.4,455.7 239.8,462.2 243.0,467.8 247.1,474.2 250.3,478.3 254.6,481.0" fill="none" stroke="#444" stroke-width="3.5" stroke-linejoin="round" opacity="0.45"/>
<polyline points="196.9,443.8 200.0,440.0 203.3,435.7 206.5,432.7 209.7,430.9 214.5,428.5 219.4,429.3 224.2,431.7 229.0,436.5 233.1,443.8 237.1,450.2 241.1,453.4 243.5,459.9 246.7,465.5 250.8,471.9 254.0,476.0 258.3,478.7" fill="none" stroke="#666" stroke-width="3.0" stroke-linejoin="round" opacity="0.40"/>
<polyline points="194.4,445.3 197.5,441.5 200.8,437.2 204.0,434.2 207.2,432.4 212.0,430.0 216.9,430.8 221.7,433.2 226.5,438.0 230.6,445.3 234.6,451.7 238.6,454.9 241.0,461.4 244.2,467.0 248.3,473.4 251.5,477.5 255.8,480.2" fill="none" stroke="#0000ff" stroke-width="1.8" stroke-linejoin="round"/>
<polyline points="31.3,489.6 34.5,489.7 39.1,488.7 43.6,487.3 48.2,486.0 52.7,484.6 57.3,483.1 60.0,482.0 61.4,482.1 64.5,479.4 68.2,477.2 71.8,474.4 74.5,472.2 77.3,469.9 80.0,469.4 85.0,469.3 95.9,468.5 98.1,468.5 156.3,468.5 159.6,466.3 167.0,466.3 168.6,465.0 176.8,464.7 178.4,461.6 181.2,461.1 184.4,454.9 187.7,448.9 189.9,446.7 194.6,441.6 202.6,433.2 218.5,421.7 220.0,422.9 224.6,426.0 228.0,428.3 229.1,430.6 231.4,434.6 234.8,438.6 236.5,440.3 237.6,442.5 239.9,445.9 242.2,451.1 244.5,452.8 247.3,455.0 247.9,458.5 249.6,462.4 251.9,465.9 254.1,470.4 255.8,472.0" fill="none" stroke="#ff0000" stroke-width="1.8" stroke-linejoin="round"/>
</g>
<g clip-path="url(#c31)">
<polyline points="465.1,441.2 468.3,441.2 469.5,442.4 470.3,406.3 472.4,408.9 475.0,408.4 477.6,410.5 480.8,413.6 482.8,416.2 484.4,410.5 487.0,412.5 490.1,416.7 493.3,421.4 496.4,426.1 498.5,427.1 499.6,403.9 501.9,406.3 504.7,408.4 509.0,413.4 513.2,418.4 517.5,423.4 521.0,429.0 522.5,424.6 525.8,434.2" fill="none" stroke="#909090" stroke-width="9.0" stroke-linejoin="round" opacity="0.50"/>
<polyline points="465.1,438.7 468.3,438.7 469.5,439.9 470.3,403.8 472.4,406.4 475.0,405.9 477.6,408.0 480.8,411.1 482.8,413.7 484.4,408.0 487.0,410.0 490.1,414.2 493.3,418.9 496.4,423.6 498.5,424.6 499.6,401.4 501.9,403.8 504.7,405.9 509.0,410.9 513.2,415.9 517.5,420.9 521.0,426.5 522.5,422.1 525.8,431.7" fill="none" stroke="#484848" stroke-width="3.5" stroke-linejoin="round" opacity="0.50"/>
<polyline points="465.1,444.5 468.3,444.5 469.5,445.7 470.3,409.6 472.4,412.2 475.0,411.7 477.6,413.8 480.8,416.9 482.8,419.5 484.4,413.8 487.0,415.8 490.1,420.0 493.3,424.7 496.4,429.4 498.5,430.4 499.6,407.2 501.9,409.6 504.7,411.7 509.0,416.7 513.2,421.7 517.5,426.7 521.0,432.3 522.5,427.9 525.8,437.5" fill="none" stroke="#6a6a6a" stroke-width="2.5" stroke-linejoin="round" opacity="0.40"/>
<polyline points="465.1,441.7 468.3,441.7 469.5,442.9 470.3,406.8 472.4,409.4 475.0,408.9 477.6,411.0 480.8,414.1 482.8,416.7 484.4,411.0 487.0,413.0 490.1,417.2 493.3,421.9 496.4,426.6 498.5,427.6 499.6,404.4 501.9,406.8 504.7,408.9 509.0,413.9 513.2,418.9 517.5,423.9 521.0,429.5 522.5,425.1 525.8,434.7" fill="none" stroke="#0000ff" stroke-width="1.8" stroke-linejoin="round"/>
<polyline points="301.1,476.6 302.8,468.6 304.4,461.4 305.8,458.1 306.8,442.8 307.6,431.6 308.8,434.8 309.3,435.6 311.8,434.8 313.8,434.5 315.1,429.1 316.5,430.8 318.1,430.0 319.8,426.7 321.3,425.1 323.4,425.4 324.6,425.1 326.2,416.3 327.8,417.9 331.8,420.3 334.2,421.4 335.8,420.6 339.0,421.9 343.1,422.7 347.1,423.5 348.8,423.0 354.4,423.8 359.0,424.7 364.8,425.4 367.8,425.0 373.5,425.4 376.4,424.4 378.6,424.3 380.8,423.3 383.8,423.3 391.0,423.5 398.2,424.4 405.5,425.4 412.8,426.9 420.1,428.3 427.3,430.2 434.4,431.8 441.0,434.3 446.6,437.2 452.3,440.6 458.0,444.2 459.8,443.1 461.4,443.8 463.8,444.2 467.1,446.3 469.3,448.4" fill="none" stroke="#0000ff" stroke-width="1.8" stroke-linejoin="round"/>
<polyline points="301.5,476.6 303.2,468.6 304.8,461.4 306.1,458.1 307.2,442.8 308.0,431.6 309.2,434.8 309.7,435.6 312.1,434.8 314.2,434.5 315.5,429.1 316.9,430.8 318.5,430.0 320.1,426.7 321.7,425.1 323.8,425.4 325.0,425.1 326.6,416.3 328.2,417.9 332.2,420.3 334.6,421.4 336.2,420.6 339.4,421.9 343.5,422.7 347.5,423.5 349.1,423.0 354.8,423.8 359.4,424.7 365.2,425.4 368.1,425.0 373.9,425.4 376.8,424.4 379.0,424.3 381.2,423.3 384.1,423.3 391.4,423.5 398.6,424.4 405.9,425.4 413.2,426.9 420.5,428.3 427.7,430.2 434.8,431.8 441.4,434.3 447.0,437.2 452.7,440.6 458.4,444.2 460.1,443.1 461.8,443.8 464.1,444.2 467.5,446.3 469.7,448.4 470.5,408.9 471.6,411.7 472.6,412.6 474.0,412.2 475.4,413.1 479.2,417.4 483.0,422.1 484.4,416.0 485.9,417.4 489.6,422.6 492.5,427.3 495.3,431.1 497.2,432.1 499.1,434.9 501.5,438.2 502.4,411.7 503.9,413.1 507.9,419.3 513.2,425.3 515.1,429.3 518.5,434.6 522.4,439.2 525.8,445.3" fill="none" stroke="#ff0000" stroke-width="1.8" stroke-linejoin="round"/>
</g>
<rect x="191.20" y="62.30" width="6.2" height="6.2" fill="#fff" stroke="#0c8a0c" stroke-width="1.15" transform="rotate(45 194.30 65.40)"/>
<rect x="218.00" y="48.60" width="6.2" height="6.2" fill="#fff" stroke="#0c8a0c" stroke-width="1.15" transform="rotate(45 221.10 51.70)"/>
<rect x="245.70" y="95.50" width="6.2" height="6.2" fill="#fff" stroke="#0c8a0c" stroke-width="1.15" transform="rotate(45 248.80 98.60)"/>
<rect x="464.10" y="53.50" width="6.2" height="6.2" fill="#fff" stroke="#0c8a0c" stroke-width="1.15" transform="rotate(45 467.20 56.60)"/>
<rect x="496.50" y="17.90" width="6.2" height="6.2" fill="#fff" stroke="#0c8a0c" stroke-width="1.15" transform="rotate(45 499.60 21.00)"/>
<rect x="518.70" y="32.40" width="6.2" height="6.2" fill="#fff" stroke="#0c8a0c" stroke-width="1.15" transform="rotate(45 521.80 35.50)"/>
<rect x="191.20" y="189.23" width="6.2" height="6.2" fill="#fff" stroke="#0c8a0c" stroke-width="1.15" transform="rotate(45 194.30 192.33)"/>
<rect x="218.00" y="175.53" width="6.2" height="6.2" fill="#fff" stroke="#0c8a0c" stroke-width="1.15" transform="rotate(45 221.10 178.63)"/>
<rect x="245.70" y="222.43" width="6.2" height="6.2" fill="#fff" stroke="#0c8a0c" stroke-width="1.15" transform="rotate(45 248.80 225.53)"/>
<rect x="464.10" y="180.43" width="6.2" height="6.2" fill="#fff" stroke="#0c8a0c" stroke-width="1.15" transform="rotate(45 467.20 183.53)"/>
<rect x="496.50" y="144.83" width="6.2" height="6.2" fill="#fff" stroke="#0c8a0c" stroke-width="1.15" transform="rotate(45 499.60 147.93)"/>
<rect x="518.70" y="159.33" width="6.2" height="6.2" fill="#fff" stroke="#0c8a0c" stroke-width="1.15" transform="rotate(45 521.80 162.43)"/>
<rect x="191.20" y="316.16" width="6.2" height="6.2" fill="#fff" stroke="#0c8a0c" stroke-width="1.15" transform="rotate(45 194.30 319.26)"/>
<rect x="218.00" y="302.46" width="6.2" height="6.2" fill="#fff" stroke="#0c8a0c" stroke-width="1.15" transform="rotate(45 221.10 305.56)"/>
<rect x="245.70" y="349.36" width="6.2" height="6.2" fill="#fff" stroke="#0c8a0c" stroke-width="1.15" transform="rotate(45 248.80 352.46)"/>
<rect x="464.10" y="307.36" width="6.2" height="6.2" fill="#fff" stroke="#0c8a0c" stroke-width="1.15" transform="rotate(45 467.20 310.46)"/>
<rect x="496.50" y="271.76" width="6.2" height="6.2" fill="#fff" stroke="#0c8a0c" stroke-width="1.15" transform="rotate(45 499.60 274.86)"/>
<rect x="518.70" y="286.26" width="6.2" height="6.2" fill="#fff" stroke="#0c8a0c" stroke-width="1.15" transform="rotate(45 521.80 289.36)"/>
<rect x="191.20" y="443.09" width="6.2" height="6.2" fill="#fff" stroke="#0c8a0c" stroke-width="1.15" transform="rotate(45 194.30 446.19)"/>
<rect x="218.00" y="429.39" width="6.2" height="6.2" fill="#fff" stroke="#0c8a0c" stroke-width="1.15" transform="rotate(45 221.10 432.49)"/>
<rect x="245.70" y="476.29" width="6.2" height="6.2" fill="#fff" stroke="#0c8a0c" stroke-width="1.15" transform="rotate(45 248.80 479.39)"/>
<rect x="464.10" y="434.29" width="6.2" height="6.2" fill="#fff" stroke="#0c8a0c" stroke-width="1.15" transform="rotate(45 467.20 437.39)"/>
<rect x="496.50" y="398.69" width="6.2" height="6.2" fill="#fff" stroke="#0c8a0c" stroke-width="1.15" transform="rotate(45 499.60 401.79)"/>
<rect x="518.70" y="413.19" width="6.2" height="6.2" fill="#fff" stroke="#0c8a0c" stroke-width="1.15" transform="rotate(45 521.80 416.29)"/>
<text x="35.87" y="17.60" font-size="12.50" textLength="16.35" lengthAdjust="spacingAndGlyphs" fill="#1e1e1e">(a)</text>
<text x="305.87" y="20.75" font-size="12.50" textLength="16.35" lengthAdjust="spacingAndGlyphs" fill="#1e1e1e">(b)</text>
<text transform="translate(12.80 90.30) rotate(-90)" x="-0.88" y="0" font-size="10.10" textLength="16.07" lengthAdjust="spacingAndGlyphs" fill="#1e1e1e">LAI</text>
<text transform="translate(12.20 70.50) rotate(-90)" x="-0.56" y="0" font-size="9.40" textLength="3.01" lengthAdjust="spacingAndGlyphs" fill="#1e1e1e">(</text>
<text transform="translate(12.80 66.50) rotate(-90)" x="-0.18" y="0" font-size="10.80" font-style="italic" textLength="9.20" lengthAdjust="spacingAndGlyphs" fill="#1e1e1e">m</text>
<text transform="translate(9.60 55.70) rotate(-90)" x="-0.39" y="0" font-size="7.60" textLength="4.27" lengthAdjust="spacingAndGlyphs" fill="#1e1e1e">2</text>
<text transform="translate(12.80 50.30) rotate(-90)" x="-0.18" y="0" font-size="10.80" font-style="italic" textLength="8.87" lengthAdjust="spacingAndGlyphs" fill="#1e1e1e">m</text>
<text transform="translate(9.60 39.30) rotate(-90)" x="-0.41" y="0" font-size="7.60" textLength="4.81" lengthAdjust="spacingAndGlyphs" fill="#1e1e1e">−</text>
<text transform="translate(9.60 33.40) rotate(-90)" x="-0.38" y="0" font-size="7.60" textLength="4.15" lengthAdjust="spacingAndGlyphs" fill="#1e1e1e">2</text>
<text transform="translate(12.20 28.10) rotate(-90)" x="-0.05" y="0" font-size="9.40" textLength="3.01" lengthAdjust="spacingAndGlyphs" fill="#1e1e1e">)</text>
<text transform="translate(274.30 96.60) rotate(-90)" x="-0.48" y="0" font-size="10.10" textLength="15.74" lengthAdjust="spacingAndGlyphs" fill="#1e1e1e">SM</text>
<text transform="translate(273.70 76.60) rotate(-90)" x="-0.40" y="0" font-size="9.40" textLength="2.14" lengthAdjust="spacingAndGlyphs" fill="#1e1e1e">(</text>
<text transform="translate(274.30 73.00) rotate(-90)" x="-0.32" y="0" font-size="10.80" font-style="italic" textLength="4.82" lengthAdjust="spacingAndGlyphs" fill="#1e1e1e">c</text>
<text transform="translate(274.30 66.80) rotate(-90)" x="-0.17" y="0" font-size="10.80" font-style="italic" textLength="8.65" lengthAdjust="spacingAndGlyphs" fill="#1e1e1e">m</text>
<text transform="translate(270.70 55.80) rotate(-90)" x="-0.26" y="0" font-size="7.60" textLength="3.75" lengthAdjust="spacingAndGlyphs" fill="#1e1e1e">3</text>
<text transform="translate(274.30 50.70) rotate(-90)" x="-0.31" y="0" font-size="10.80" font-style="italic" textLength="4.71" lengthAdjust="spacingAndGlyphs" fill="#1e1e1e">c</text>
<text transform="translate(274.30 44.90) rotate(-90)" x="-0.19" y="0" font-size="10.80" font-style="italic" textLength="9.30" lengthAdjust="spacingAndGlyphs" fill="#1e1e1e">m</text>
<text transform="translate(270.70 33.80) rotate(-90)" x="-0.45" y="0" font-size="7.60" textLength="5.29" lengthAdjust="spacingAndGlyphs" fill="#1e1e1e">−</text>
<text transform="translate(270.70 27.50) rotate(-90)" x="-0.28" y="0" font-size="7.60" textLength="4.11" lengthAdjust="spacingAndGlyphs" fill="#1e1e1e">3</text>
<text transform="translate(273.70 22.20) rotate(-90)" x="-0.04" y="0" font-size="9.40" textLength="2.26" lengthAdjust="spacingAndGlyphs" fill="#1e1e1e">)</text>
<text x="35.87" y="144.53" font-size="12.50" textLength="15.60" lengthAdjust="spacingAndGlyphs" fill="#1e1e1e">(c)</text>
<text x="305.87" y="147.68" font-size="12.50" textLength="16.35" lengthAdjust="spacingAndGlyphs" fill="#1e1e1e">(d)</text>
<text transform="translate(12.80 217.23) rotate(-90)" x="-0.88" y="0" font-size="10.10" textLength="16.07" lengthAdjust="spacingAndGlyphs" fill="#1e1e1e">LAI</text>
<text transform="translate(12.20 197.43) rotate(-90)" x="-0.56" y="0" font-size="9.40" textLength="3.01" lengthAdjust="spacingAndGlyphs" fill="#1e1e1e">(</text>
<text transform="translate(12.80 193.43) rotate(-90)" x="-0.18" y="0" font-size="10.80" font-style="italic" textLength="9.20" lengthAdjust="spacingAndGlyphs" fill="#1e1e1e">m</text>
<text transform="translate(9.60 182.63) rotate(-90)" x="-0.39" y="0" font-size="7.60" textLength="4.27" lengthAdjust="spacingAndGlyphs" fill="#1e1e1e">2</text>
<text transform="translate(12.80 177.23) rotate(-90)" x="-0.18" y="0" font-size="10.80" font-style="italic" textLength="8.87" lengthAdjust="spacingAndGlyphs" fill="#1e1e1e">m</text>
<text transform="translate(9.60 166.23) rotate(-90)" x="-0.41" y="0" font-size="7.60" textLength="4.81" lengthAdjust="spacingAndGlyphs" fill="#1e1e1e">−</text>
<text transform="translate(9.60 160.33) rotate(-90)" x="-0.38" y="0" font-size="7.60" textLength="4.15" lengthAdjust="spacingAndGlyphs" fill="#1e1e1e">2</text>
<text transform="translate(12.20 155.03) rotate(-90)" x="-0.05" y="0" font-size="9.40" textLength="3.01" lengthAdjust="spacingAndGlyphs" fill="#1e1e1e">)</text>
<text transform="translate(274.30 223.53) rotate(-90)" x="-0.48" y="0" font-size="10.10" textLength="15.74" lengthAdjust="spacingAndGlyphs" fill="#1e1e1e">SM</text>
<text transform="translate(273.70 203.53) rotate(-90)" x="-0.40" y="0" font-size="9.40" textLength="2.14" lengthAdjust="spacingAndGlyphs" fill="#1e1e1e">(</text>
<text transform="translate(274.30 199.93) rotate(-90)" x="-0.32" y="0" font-size="10.80" font-style="italic" textLength="4.82" lengthAdjust="spacingAndGlyphs" fill="#1e1e1e">c</text>
<text transform="translate(274.30 193.73) rotate(-90)" x="-0.17" y="0" font-size="10.80" font-style="italic" textLength="8.65" lengthAdjust="spacingAndGlyphs" fill="#1e1e1e">m</text>
<text transform="translate(270.70 182.73) rotate(-90)" x="-0.26" y="0" font-size="7.60" textLength="3.75" lengthAdjust="spacingAndGlyphs" fill="#1e1e1e">3</text>
<text transform="translate(274.30 177.63) rotate(-90)" x="-0.31" y="0" font-size="10.80" font-style="italic" textLength="4.71" lengthAdjust="spacingAndGlyphs" fill="#1e1e1e">c</text>
<text transform="translate(274.30 171.83) rotate(-90)" x="-0.19" y="0" font-size="10.80" font-style="italic" textLength="9.30" lengthAdjust="spacingAndGlyphs" fill="#1e1e1e">m</text>
<text transform="translate(270.70 160.73) rotate(-90)" x="-0.45" y="0" font-size="7.60" textLength="5.29" lengthAdjust="spacingAndGlyphs" fill="#1e1e1e">−</text>
<text transform="translate(270.70 154.43) rotate(-90)" x="-0.28" y="0" font-size="7.60" textLength="4.11" lengthAdjust="spacingAndGlyphs" fill="#1e1e1e">3</text>
<text transform="translate(273.70 149.13) rotate(-90)" x="-0.04" y="0" font-size="9.40" textLength="2.26" lengthAdjust="spacingAndGlyphs" fill="#1e1e1e">)</text>
<text x="35.87" y="271.46" font-size="12.50" textLength="16.35" lengthAdjust="spacingAndGlyphs" fill="#1e1e1e">(e)</text>
<text x="305.87" y="274.61" font-size="12.50" textLength="12.62" lengthAdjust="spacingAndGlyphs" fill="#1e1e1e">(f)</text>
<text transform="translate(12.80 344.16) rotate(-90)" x="-0.88" y="0" font-size="10.10" textLength="16.07" lengthAdjust="spacingAndGlyphs" fill="#1e1e1e">LAI</text>
<text transform="translate(12.20 324.36) rotate(-90)" x="-0.56" y="0" font-size="9.40" textLength="3.01" lengthAdjust="spacingAndGlyphs" fill="#1e1e1e">(</text>
<text transform="translate(12.80 320.36) rotate(-90)" x="-0.18" y="0" font-size="10.80" font-style="italic" textLength="9.20" lengthAdjust="spacingAndGlyphs" fill="#1e1e1e">m</text>
<text transform="translate(9.60 309.56) rotate(-90)" x="-0.39" y="0" font-size="7.60" textLength="4.27" lengthAdjust="spacingAndGlyphs" fill="#1e1e1e">2</text>
<text transform="translate(12.80 304.16) rotate(-90)" x="-0.18" y="0" font-size="10.80" font-style="italic" textLength="8.87" lengthAdjust="spacingAndGlyphs" fill="#1e1e1e">m</text>
<text transform="translate(9.60 293.16) rotate(-90)" x="-0.41" y="0" font-size="7.60" textLength="4.81" lengthAdjust="spacingAndGlyphs" fill="#1e1e1e">−</text>
<text transform="translate(9.60 287.26) rotate(-90)" x="-0.38" y="0" font-size="7.60" textLength="4.15" lengthAdjust="spacingAndGlyphs" fill="#1e1e1e">2</text>
<text transform="translate(12.20 281.96) rotate(-90)" x="-0.05" y="0" font-size="9.40" textLength="3.01" lengthAdjust="spacingAndGlyphs" fill="#1e1e1e">)</text>
<text transform="translate(274.30 350.46) rotate(-90)" x="-0.48" y="0" font-size="10.10" textLength="15.74" lengthAdjust="spacingAndGlyphs" fill="#1e1e1e">SM</text>
<text transform="translate(273.70 330.46) rotate(-90)" x="-0.40" y="0" font-size="9.40" textLength="2.14" lengthAdjust="spacingAndGlyphs" fill="#1e1e1e">(</text>
<text transform="translate(274.30 326.86) rotate(-90)" x="-0.32" y="0" font-size="10.80" font-style="italic" textLength="4.82" lengthAdjust="spacingAndGlyphs" fill="#1e1e1e">c</text>
<text transform="translate(274.30 320.66) rotate(-90)" x="-0.17" y="0" font-size="10.80" font-style="italic" textLength="8.65" lengthAdjust="spacingAndGlyphs" fill="#1e1e1e">m</text>
<text transform="translate(270.70 309.66) rotate(-90)" x="-0.26" y="0" font-size="7.60" textLength="3.75" lengthAdjust="spacingAndGlyphs" fill="#1e1e1e">3</text>
<text transform="translate(274.30 304.56) rotate(-90)" x="-0.31" y="0" font-size="10.80" font-style="italic" textLength="4.71" lengthAdjust="spacingAndGlyphs" fill="#1e1e1e">c</text>
<text transform="translate(274.30 298.76) rotate(-90)" x="-0.19" y="0" font-size="10.80" font-style="italic" textLength="9.30" lengthAdjust="spacingAndGlyphs" fill="#1e1e1e">m</text>
<text transform="translate(270.70 287.66) rotate(-90)" x="-0.45" y="0" font-size="7.60" textLength="5.29" lengthAdjust="spacingAndGlyphs" fill="#1e1e1e">−</text>
<text transform="translate(270.70 281.36) rotate(-90)" x="-0.28" y="0" font-size="7.60" textLength="4.11" lengthAdjust="spacingAndGlyphs" fill="#1e1e1e">3</text>
<text transform="translate(273.70 276.06) rotate(-90)" x="-0.04" y="0" font-size="9.40" textLength="2.26" lengthAdjust="spacingAndGlyphs" fill="#1e1e1e">)</text>
<text x="35.87" y="398.39" font-size="12.50" textLength="16.35" lengthAdjust="spacingAndGlyphs" fill="#1e1e1e">(g)</text>
<text x="305.87" y="401.54" font-size="12.50" textLength="16.35" lengthAdjust="spacingAndGlyphs" fill="#1e1e1e">(h)</text>
<text transform="translate(12.80 471.09) rotate(-90)" x="-0.88" y="0" font-size="10.10" textLength="16.07" lengthAdjust="spacingAndGlyphs" fill="#1e1e1e">LAI</text>
<text transform="translate(12.20 451.29) rotate(-90)" x="-0.56" y="0" font-size="9.40" textLength="3.01" lengthAdjust="spacingAndGlyphs" fill="#1e1e1e">(</text>
<text transform="translate(12.80 447.29) rotate(-90)" x="-0.18" y="0" font-size="10.80" font-style="italic" textLength="9.20" lengthAdjust="spacingAndGlyphs" fill="#1e1e1e">m</text>
<text transform="translate(9.60 436.49) rotate(-90)" x="-0.39" y="0" font-size="7.60" textLength="4.27" lengthAdjust="spacingAndGlyphs" fill="#1e1e1e">2</text>
<text transform="translate(12.80 431.09) rotate(-90)" x="-0.18" y="0" font-size="10.80" font-style="italic" textLength="8.87" lengthAdjust="spacingAndGlyphs" fill="#1e1e1e">m</text>
<text transform="translate(9.60 420.09) rotate(-90)" x="-0.41" y="0" font-size="7.60" textLength="4.81" lengthAdjust="spacingAndGlyphs" fill="#1e1e1e">−</text>
<text transform="translate(9.60 414.19) rotate(-90)" x="-0.38" y="0" font-size="7.60" textLength="4.15" lengthAdjust="spacingAndGlyphs" fill="#1e1e1e">2</text>
<text transform="translate(12.20 408.89) rotate(-90)" x="-0.05" y="0" font-size="9.40" textLength="3.01" lengthAdjust="spacingAndGlyphs" fill="#1e1e1e">)</text>
<text transform="translate(274.30 477.39) rotate(-90)" x="-0.48" y="0" font-size="10.10" textLength="15.74" lengthAdjust="spacingAndGlyphs" fill="#1e1e1e">SM</text>
<text transform="translate(273.70 457.39) rotate(-90)" x="-0.40" y="0" font-size="9.40" textLength="2.14" lengthAdjust="spacingAndGlyphs" fill="#1e1e1e">(</text>
<text transform="translate(274.30 453.79) rotate(-90)" x="-0.32" y="0" font-size="10.80" font-style="italic" textLength="4.82" lengthAdjust="spacingAndGlyphs" fill="#1e1e1e">c</text>
<text transform="translate(274.30 447.59) rotate(-90)" x="-0.17" y="0" font-size="10.80" font-style="italic" textLength="8.65" lengthAdjust="spacingAndGlyphs" fill="#1e1e1e">m</text>
<text transform="translate(270.70 436.59) rotate(-90)" x="-0.26" y="0" font-size="7.60" textLength="3.75" lengthAdjust="spacingAndGlyphs" fill="#1e1e1e">3</text>
<text transform="translate(274.30 431.49) rotate(-90)" x="-0.31" y="0" font-size="10.80" font-style="italic" textLength="4.71" lengthAdjust="spacingAndGlyphs" fill="#1e1e1e">c</text>
<text transform="translate(274.30 425.69) rotate(-90)" x="-0.19" y="0" font-size="10.80" font-style="italic" textLength="9.30" lengthAdjust="spacingAndGlyphs" fill="#1e1e1e">m</text>
<text transform="translate(270.70 414.59) rotate(-90)" x="-0.45" y="0" font-size="7.60" textLength="5.29" lengthAdjust="spacingAndGlyphs" fill="#1e1e1e">−</text>
<text transform="translate(270.70 408.29) rotate(-90)" x="-0.28" y="0" font-size="7.60" textLength="4.11" lengthAdjust="spacingAndGlyphs" fill="#1e1e1e">3</text>
<text transform="translate(273.70 402.99) rotate(-90)" x="-0.04" y="0" font-size="9.40" textLength="2.26" lengthAdjust="spacingAndGlyphs" fill="#1e1e1e">)</text>
<text style="stroke-width:0.15px" transform="translate(528.40 22.50) rotate(90)" x="-0.05" y="0" font-size="9.60" textLength="59.98" lengthAdjust="spacingAndGlyphs" fill="#1e1e1e">Without DA</text>
<text style="stroke-width:0.15px" transform="translate(528.40 149.60) rotate(90)" x="-0.97" y="0" font-size="9.60" textLength="61.66" lengthAdjust="spacingAndGlyphs" fill="#1e1e1e">DA with LAI</text>
<text style="stroke-width:0.15px" transform="translate(528.40 276.90) rotate(90)" x="-0.97" y="0" font-size="9.60" textLength="61.53" lengthAdjust="spacingAndGlyphs" fill="#1e1e1e">DA with SM</text>
<text style="stroke-width:0.15px" transform="translate(528.40 397.30) rotate(90)" x="-0.96" y="0" font-size="9.60" textLength="85.32" lengthAdjust="spacingAndGlyphs" fill="#1e1e1e">DA with LAI+SM</text>
<line x1="77.6" y1="16.9" x2="96.7" y2="16.9" stroke="#ff0000" stroke-width="1.8" opacity="1.00"/>
<text x="103.73" y="19.80" font-size="8.30" font-style="italic" textLength="13.27" lengthAdjust="spacingAndGlyphs" fill="#1e1e1e">LAI</text><text x="116.98" y="21.70" font-size="6.30" font-style="italic" textLength="26.16" lengthAdjust="spacingAndGlyphs" fill="#1e1e1e">WOFOST</text>
<rect x="168.40" y="13.80" width="6.2" height="6.2" fill="#fff" stroke="#0c8a0c" stroke-width="1.15" transform="rotate(45 171.50 16.90)"/>
<text x="188.03" y="19.80" font-size="8.30" font-style="italic" textLength="13.27" lengthAdjust="spacingAndGlyphs" fill="#1e1e1e">LAI</text><text x="201.62" y="21.70" font-size="6.30" font-style="italic" textLength="7.88" lengthAdjust="spacingAndGlyphs" fill="#1e1e1e">S2</text>
<line x1="347.6" y1="97.7" x2="366.7" y2="97.7" stroke="#ff0000" stroke-width="1.8" opacity="1.00"/>
<text x="373.65" y="100.60" font-size="8.30" font-style="italic" textLength="13.15" lengthAdjust="spacingAndGlyphs" fill="#1e1e1e">SM</text><text x="386.88" y="102.50" font-size="6.30" font-style="italic" textLength="26.16" lengthAdjust="spacingAndGlyphs" fill="#1e1e1e">WOFOST</text>
<rect x="438.20" y="94.60" width="6.2" height="6.2" fill="#fff" stroke="#0c8a0c" stroke-width="1.15" transform="rotate(45 441.30 97.70)"/>
<text x="457.65" y="100.60" font-size="8.30" font-style="italic" textLength="13.15" lengthAdjust="spacingAndGlyphs" fill="#1e1e1e">SM</text><text x="471.22" y="102.50" font-size="6.30" font-style="italic" textLength="7.88" lengthAdjust="spacingAndGlyphs" fill="#1e1e1e">S2</text>
<line x1="66.2" y1="144.0" x2="85.1" y2="144.0" stroke="#d0d0d0" stroke-width="0.8" opacity="0.50"/>
<text x="91.63" y="146.90" font-size="8.30" font-style="italic" textLength="13.27" lengthAdjust="spacingAndGlyphs" fill="#1e1e1e">LAI</text><text x="105.19" y="148.80" font-size="6.30" font-style="italic" textLength="30.26" lengthAdjust="spacingAndGlyphs" fill="#1e1e1e">Ensemble</text>
<line x1="66.2" y1="157.0" x2="85.1" y2="157.0" stroke="#0000ff" stroke-width="1.8" opacity="1.00"/>
<text x="91.63" y="159.90" font-size="8.30" font-style="italic" textLength="13.27" lengthAdjust="spacingAndGlyphs" fill="#1e1e1e">LAI</text><text x="105.22" y="161.80" font-size="6.30" font-style="italic" textLength="14.41" lengthAdjust="spacingAndGlyphs" fill="#1e1e1e">EnKF</text>
<line x1="153.0" y1="143.9" x2="171.9" y2="143.9" stroke="#ff0000" stroke-width="1.8" opacity="1.00"/>
<text x="178.63" y="146.80" font-size="8.30" font-style="italic" textLength="13.27" lengthAdjust="spacingAndGlyphs" fill="#1e1e1e">LAI</text><text x="191.88" y="148.70" font-size="6.30" font-style="italic" textLength="26.16" lengthAdjust="spacingAndGlyphs" fill="#1e1e1e">WOFOST</text>
<rect x="159.40" y="153.80" width="6.2" height="6.2" fill="#fff" stroke="#0c8a0c" stroke-width="1.15" transform="rotate(45 162.50 156.90)"/>
<text x="178.63" y="159.80" font-size="8.30" font-style="italic" textLength="13.27" lengthAdjust="spacingAndGlyphs" fill="#1e1e1e">LAI</text><text x="192.22" y="161.70" font-size="6.30" font-style="italic" textLength="7.88" lengthAdjust="spacingAndGlyphs" fill="#1e1e1e">S2</text>
<line x1="336.5" y1="211.0" x2="355.5" y2="211.0" stroke="#b8b8b8" stroke-width="1.0" opacity="0.70"/>
<text x="362.35" y="213.90" font-size="8.30" font-style="italic" textLength="13.15" lengthAdjust="spacingAndGlyphs" fill="#1e1e1e">SM</text><text x="375.89" y="215.80" font-size="6.30" font-style="italic" textLength="30.26" lengthAdjust="spacingAndGlyphs" fill="#1e1e1e">Ensemble</text>
<line x1="336.5" y1="225.0" x2="355.5" y2="225.0" stroke="#0000ff" stroke-width="1.8" opacity="1.00"/>
<text x="362.35" y="227.90" font-size="8.30" font-style="italic" textLength="13.15" lengthAdjust="spacingAndGlyphs" fill="#1e1e1e">SM</text><text x="375.92" y="229.80" font-size="6.30" font-style="italic" textLength="14.41" lengthAdjust="spacingAndGlyphs" fill="#1e1e1e">EnKF</text>
<line x1="423.0" y1="211.2" x2="441.9" y2="211.2" stroke="#ff0000" stroke-width="1.8" opacity="1.00"/>
<text x="448.65" y="214.10" font-size="8.30" font-style="italic" textLength="13.15" lengthAdjust="spacingAndGlyphs" fill="#1e1e1e">SM</text><text x="461.88" y="216.00" font-size="6.30" font-style="italic" textLength="26.16" lengthAdjust="spacingAndGlyphs" fill="#1e1e1e">WOFOST</text>
<rect x="429.40" y="221.80" width="6.2" height="6.2" fill="#fff" stroke="#0c8a0c" stroke-width="1.15" transform="rotate(45 432.50 224.90)"/>
<text x="448.65" y="227.80" font-size="8.30" font-style="italic" textLength="13.15" lengthAdjust="spacingAndGlyphs" fill="#1e1e1e">SM</text><text x="462.22" y="229.70" font-size="6.30" font-style="italic" textLength="7.88" lengthAdjust="spacingAndGlyphs" fill="#1e1e1e">S2</text>
<line x1="66.2" y1="270.9" x2="85.1" y2="270.9" stroke="#d0d0d0" stroke-width="0.8" opacity="0.50"/>
<text x="91.63" y="273.83" font-size="8.30" font-style="italic" textLength="13.27" lengthAdjust="spacingAndGlyphs" fill="#1e1e1e">LAI</text><text x="105.19" y="275.73" font-size="6.30" font-style="italic" textLength="30.26" lengthAdjust="spacingAndGlyphs" fill="#1e1e1e">Ensemble</text>
<line x1="66.2" y1="283.9" x2="85.1" y2="283.9" stroke="#0000ff" stroke-width="1.8" opacity="1.00"/>
<text x="91.63" y="286.83" font-size="8.30" font-style="italic" textLength="13.27" lengthAdjust="spacingAndGlyphs" fill="#1e1e1e">LAI</text><text x="105.22" y="288.73" font-size="6.30" font-style="italic" textLength="14.41" lengthAdjust="spacingAndGlyphs" fill="#1e1e1e">EnKF</text>
<line x1="153.0" y1="270.8" x2="171.9" y2="270.8" stroke="#ff0000" stroke-width="1.8" opacity="1.00"/>
<text x="178.63" y="273.73" font-size="8.30" font-style="italic" textLength="13.27" lengthAdjust="spacingAndGlyphs" fill="#1e1e1e">LAI</text><text x="191.88" y="275.63" font-size="6.30" font-style="italic" textLength="26.16" lengthAdjust="spacingAndGlyphs" fill="#1e1e1e">WOFOST</text>
<rect x="159.40" y="280.73" width="6.2" height="6.2" fill="#fff" stroke="#0c8a0c" stroke-width="1.15" transform="rotate(45 162.50 283.83)"/>
<text x="178.63" y="286.73" font-size="8.30" font-style="italic" textLength="13.27" lengthAdjust="spacingAndGlyphs" fill="#1e1e1e">LAI</text><text x="192.22" y="288.63" font-size="6.30" font-style="italic" textLength="7.88" lengthAdjust="spacingAndGlyphs" fill="#1e1e1e">S2</text>
<line x1="336.5" y1="337.9" x2="355.5" y2="337.9" stroke="#b8b8b8" stroke-width="1.0" opacity="0.70"/>
<text x="362.35" y="340.83" font-size="8.30" font-style="italic" textLength="13.15" lengthAdjust="spacingAndGlyphs" fill="#1e1e1e">SM</text><text x="375.89" y="342.73" font-size="6.30" font-style="italic" textLength="30.26" lengthAdjust="spacingAndGlyphs" fill="#1e1e1e">Ensemble</text>
<line x1="336.5" y1="351.9" x2="355.5" y2="351.9" stroke="#0000ff" stroke-width="1.8" opacity="1.00"/>
<text x="362.35" y="354.83" font-size="8.30" font-style="italic" textLength="13.15" lengthAdjust="spacingAndGlyphs" fill="#1e1e1e">SM</text><text x="375.92" y="356.73" font-size="6.30" font-style="italic" textLength="14.41" lengthAdjust="spacingAndGlyphs" fill="#1e1e1e">EnKF</text>
<line x1="423.0" y1="338.1" x2="441.9" y2="338.1" stroke="#ff0000" stroke-width="1.8" opacity="1.00"/>
<text x="448.65" y="341.03" font-size="8.30" font-style="italic" textLength="13.15" lengthAdjust="spacingAndGlyphs" fill="#1e1e1e">SM</text><text x="461.88" y="342.93" font-size="6.30" font-style="italic" textLength="26.16" lengthAdjust="spacingAndGlyphs" fill="#1e1e1e">WOFOST</text>
<rect x="429.40" y="348.73" width="6.2" height="6.2" fill="#fff" stroke="#0c8a0c" stroke-width="1.15" transform="rotate(45 432.50 351.83)"/>
<text x="448.65" y="354.73" font-size="8.30" font-style="italic" textLength="13.15" lengthAdjust="spacingAndGlyphs" fill="#1e1e1e">SM</text><text x="462.22" y="356.63" font-size="6.30" font-style="italic" textLength="7.88" lengthAdjust="spacingAndGlyphs" fill="#1e1e1e">S2</text>
<line x1="66.2" y1="397.9" x2="85.1" y2="397.9" stroke="#d0d0d0" stroke-width="0.8" opacity="0.50"/>
<text x="91.63" y="400.76" font-size="8.30" font-style="italic" textLength="13.27" lengthAdjust="spacingAndGlyphs" fill="#1e1e1e">LAI</text><text x="105.19" y="402.66" font-size="6.30" font-style="italic" textLength="30.26" lengthAdjust="spacingAndGlyphs" fill="#1e1e1e">Ensemble</text>
<line x1="66.2" y1="410.9" x2="85.1" y2="410.9" stroke="#0000ff" stroke-width="1.8" opacity="1.00"/>
<text x="91.63" y="413.76" font-size="8.30" font-style="italic" textLength="13.27" lengthAdjust="spacingAndGlyphs" fill="#1e1e1e">LAI</text><text x="105.22" y="415.66" font-size="6.30" font-style="italic" textLength="14.41" lengthAdjust="spacingAndGlyphs" fill="#1e1e1e">EnKF</text>
<line x1="153.0" y1="397.8" x2="171.9" y2="397.8" stroke="#ff0000" stroke-width="1.8" opacity="1.00"/>
<text x="178.63" y="400.66" font-size="8.30" font-style="italic" textLength="13.27" lengthAdjust="spacingAndGlyphs" fill="#1e1e1e">LAI</text><text x="191.88" y="402.56" font-size="6.30" font-style="italic" textLength="26.16" lengthAdjust="spacingAndGlyphs" fill="#1e1e1e">WOFOST</text>
<rect x="159.40" y="407.66" width="6.2" height="6.2" fill="#fff" stroke="#0c8a0c" stroke-width="1.15" transform="rotate(45 162.50 410.76)"/>
<text x="178.63" y="413.66" font-size="8.30" font-style="italic" textLength="13.27" lengthAdjust="spacingAndGlyphs" fill="#1e1e1e">LAI</text><text x="192.22" y="415.56" font-size="6.30" font-style="italic" textLength="7.88" lengthAdjust="spacingAndGlyphs" fill="#1e1e1e">S2</text>
<line x1="336.5" y1="464.9" x2="355.5" y2="464.9" stroke="#b8b8b8" stroke-width="1.0" opacity="0.70"/>
<text x="362.35" y="467.76" font-size="8.30" font-style="italic" textLength="13.15" lengthAdjust="spacingAndGlyphs" fill="#1e1e1e">SM</text><text x="375.89" y="469.66" font-size="6.30" font-style="italic" textLength="30.26" lengthAdjust="spacingAndGlyphs" fill="#1e1e1e">Ensemble</text>
<line x1="336.5" y1="478.9" x2="355.5" y2="478.9" stroke="#0000ff" stroke-width="1.8" opacity="1.00"/>
<text x="362.35" y="481.76" font-size="8.30" font-style="italic" textLength="13.15" lengthAdjust="spacingAndGlyphs" fill="#1e1e1e">SM</text><text x="375.92" y="483.66" font-size="6.30" font-style="italic" textLength="14.41" lengthAdjust="spacingAndGlyphs" fill="#1e1e1e">EnKF</text>
<line x1="423.0" y1="465.1" x2="441.9" y2="465.1" stroke="#ff0000" stroke-width="1.8" opacity="1.00"/>
<text x="448.65" y="467.96" font-size="8.30" font-style="italic" textLength="13.15" lengthAdjust="spacingAndGlyphs" fill="#1e1e1e">SM</text><text x="461.88" y="469.86" font-size="6.30" font-style="italic" textLength="26.16" lengthAdjust="spacingAndGlyphs" fill="#1e1e1e">WOFOST</text>
<rect x="429.40" y="475.66" width="6.2" height="6.2" fill="#fff" stroke="#0c8a0c" stroke-width="1.15" transform="rotate(45 432.50 478.76)"/>
<text x="448.65" y="481.66" font-size="8.30" font-style="italic" textLength="13.15" lengthAdjust="spacingAndGlyphs" fill="#1e1e1e">SM</text><text x="462.22" y="483.56" font-size="6.30" font-style="italic" textLength="7.88" lengthAdjust="spacingAndGlyphs" fill="#1e1e1e">S2</text>
<text transform="translate(31.20 511.0) rotate(-20)" x="-25.40" y="3.44" font-size="10.0" textLength="50.69" lengthAdjust="spacingAndGlyphs" fill="#1e1e1e">2016-09-30</text>
<text transform="translate(86.50 511.0) rotate(-20)" x="-25.40" y="3.44" font-size="10.0" textLength="50.69" lengthAdjust="spacingAndGlyphs" fill="#1e1e1e">2016-11-30</text>
<text transform="translate(142.71 511.0) rotate(-20)" x="-25.40" y="3.44" font-size="10.0" textLength="50.78" lengthAdjust="spacingAndGlyphs" fill="#1e1e1e">2017-01-31</text>
<text transform="translate(196.20 511.0) rotate(-20)" x="-25.40" y="3.44" font-size="10.0" textLength="50.78" lengthAdjust="spacingAndGlyphs" fill="#1e1e1e">2017-03-31</text>
<text transform="translate(251.50 511.0) rotate(-20)" x="-25.40" y="3.44" font-size="10.0" textLength="50.78" lengthAdjust="spacingAndGlyphs" fill="#1e1e1e">2017-05-31</text>
<text transform="translate(301.20 511.0) rotate(-20)" x="-25.40" y="3.44" font-size="10.0" textLength="50.69" lengthAdjust="spacingAndGlyphs" fill="#1e1e1e">2016-09-30</text>
<text transform="translate(356.50 511.0) rotate(-20)" x="-25.40" y="3.44" font-size="10.0" textLength="50.69" lengthAdjust="spacingAndGlyphs" fill="#1e1e1e">2016-11-30</text>
<text transform="translate(412.71 511.0) rotate(-20)" x="-25.40" y="3.44" font-size="10.0" textLength="50.78" lengthAdjust="spacingAndGlyphs" fill="#1e1e1e">2017-01-31</text>
<text transform="translate(466.20 511.0) rotate(-20)" x="-25.40" y="3.44" font-size="10.0" textLength="50.78" lengthAdjust="spacingAndGlyphs" fill="#1e1e1e">2017-03-31</text>
<text transform="translate(521.50 511.0) rotate(-20)" x="-25.40" y="3.44" font-size="10.0" textLength="50.78" lengthAdjust="spacingAndGlyphs" fill="#1e1e1e">2017-05-31</text>
</svg></body></html>
